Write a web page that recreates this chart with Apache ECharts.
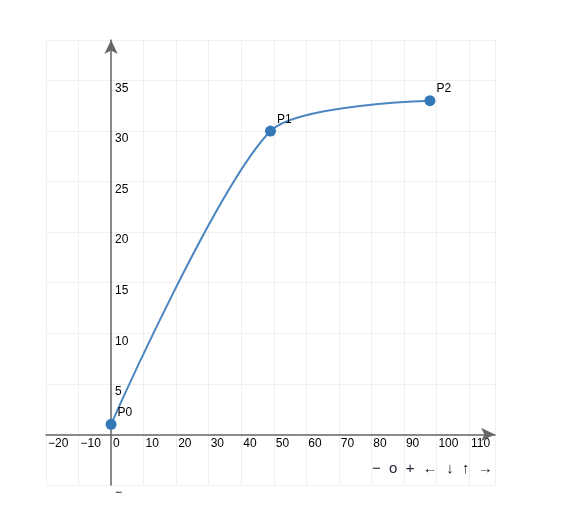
<!DOCTYPE html>
<html>
<head>
<meta charset="utf-8">
<script src="https://cdn.jsdelivr.net/npm/echarts@6/dist/echarts.min.js"></script>
<style>html,body{margin:0;padding:0;background:#fff}#chart{width:563px;height:521px}</style>
</head>
<body>
<div id="chart"></div>
<script>
  // Points de contrôle
  const pointNames = ['P0', 'P1', 'P2'];
  const pointX = [0, 49, 98];
  const pointY = [1, 30, 33];

  const chart = echarts.init(document.getElementById('chart'));
  const pts = pointX.map((x, i) => ({ value: [x, pointY[i]], name: pointNames[i] }));
  const fmt = v => String(v).replace('-', '\u2212');
  const arrowLine = { onZero: true, symbol: ['none', 'arrow'], symbolSize: [10, 14], lineStyle: { color: '#666', width: 1.5 } };

  chart.setOption({
    animation: false,
    grid: { left: 46, right: 68, top: 40, bottom: 36 },
    xAxis: [{
      type: 'value', min: -20, max: 118, interval: 10,
      axisLine: arrowLine, axisTick: { show: false }, axisLabel: { show: false },
      splitLine: { lineStyle: { color: '#f0f0f0' } }
    }, {
      // étiquettes le long de l'axe y = 0
      type: 'value', min: -20, max: 118, interval: 10, position: 'bottom', offset: -51,
      axisLine: { show: false }, axisTick: { show: false }, splitLine: { show: false },
      axisLabel: { showMaxLabel: false, align: 'left', margin: 4, padding: [0, 0, 0, 2], color: '#000', fontSize: 12, formatter: fmt }
    }],
    yAxis: [{
      type: 'value', min: -5, max: 39, interval: 5,
      axisLine: arrowLine, axisTick: { show: false }, axisLabel: { show: false },
      splitLine: { lineStyle: { color: '#f0f0f0' } }
    }, {
      type: 'value', min: -5, max: 39, interval: 5, position: 'left', offset: -65,
      axisLine: { show: false }, axisTick: { show: false }, splitLine: { show: false },
      axisLabel: {
        inside: true, showMaxLabel: false, verticalAlign: 'top', margin: 4, padding: [2, 0, 0, 0], color: '#000', fontSize: 12,
        formatter: v => v === 0 ? '' : (v < 0 ? '\u2212' : String(v))
      }
    }],
    series: [{
      type: 'line', data: pts, smooth: 0.25,
      symbol: 'circle', symbolSize: 11,
      itemStyle: { color: '#3478b8' },
      lineStyle: { color: '#4a86c0', width: 2 },
      label: { show: true, formatter: p => p.name, position: [12, -12], color: '#000', fontSize: 12 }
    }],
    graphic: [{
      type: 'text', left: 372, top: 461,
      style: { text: '\u2212  o  +  \u2190  \u2193  \u2191  \u2192', fill: '#223', font: '15px sans-serif' }
    }]
  });
</script>
</body>
</html>
